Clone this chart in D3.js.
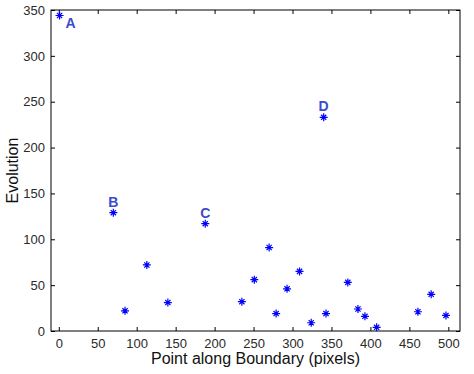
<!DOCTYPE html>
<html>
<head>
<meta charset="utf-8">
<script src="https://cdn.jsdelivr.net/npm/d3@7"></script>
<style>
  body { margin: 0; background: #fff; }
  text { font-family: Arial, "Liberation Sans", sans-serif; }
</style>
</head>
<body>
<div id="chart"></div>
<script>
// data
var positions = [1, 70, 85, 113, 140, 188, 235, 251, 270, 279, 293, 309, 324, 340, 343, 371, 384, 393, 408, 461, 478, 497];
var evolution = [344, 129, 22, 72, 31, 117, 32, 56, 91, 19, 46, 65, 9, 233, 19, 53, 24, 16, 4, 21, 40, 17];
var labelNames = ["A", "B", "C", "D"];
var labelIndex = [0, 1, 5, 13];
var xTicks = [0, 50, 100, 150, 200, 250, 300, 350, 400, 450, 500];
var yTicks = [0, 50, 100, 150, 200, 250, 300, 350];

var W = 474, H = 374;
var margin = {top: 10, right: 14, bottom: 43, left: 51},
    width = W - margin.left - margin.right,
    height = H - margin.top - margin.bottom;

var svg = d3.select("#chart")
  .append("svg")
    .attr("width", W)
    .attr("height", H)
  .append("g")
    .attr("transform", "translate(" + margin.left + "," + margin.top + ")");

var x = d3.scaleLinear().domain([-10, 515]).range([0, width]);
var y = d3.scaleLinear().domain([0, 350]).range([height, 0]);

// axes, ticks pointing inward like matlab
function styleAxis(g) {
  g.select(".domain").remove();
  g.selectAll(".tick line").attr("stroke", "#000");
  g.selectAll(".tick text").attr("fill", "#2a2a2a").style("font-size", "13px");
}

svg.append("g")
  .attr("transform", "translate(0," + height + ")")
  .call(d3.axisBottom(x).tickValues(xTicks).tickSizeInner(-4).tickSizeOuter(0).tickPadding(8))
  .call(styleAxis);
svg.append("g")
  .call(d3.axisTop(x).tickValues(xTicks).tickSizeInner(-4).tickSizeOuter(0).tickFormat(""))
  .call(styleAxis);
svg.append("g")
  .call(d3.axisLeft(y).tickValues(yTicks).tickSizeInner(-4).tickSizeOuter(0).tickPadding(6))
  .call(styleAxis);
svg.append("g")
  .attr("transform", "translate(" + width + ",0)")
  .call(d3.axisRight(y).tickValues(yTicks).tickSizeInner(-4).tickSizeOuter(0).tickFormat(""))
  .call(styleAxis);

svg.append("rect")
  .attr("width", width)
  .attr("height", height)
  .attr("fill", "none")
  .attr("stroke", "#000")
  .attr("stroke-width", 1);

// axis titles
svg.append("text")
  .attr("x", width / 2)
  .attr("y", height + 33)
  .attr("text-anchor", "middle")
  .attr("fill", "#111")
  .style("font-size", "16px")
  .text("Point along Boundary (pixels)");

svg.append("text")
  .attr("transform", "rotate(-90)")
  .attr("x", -height / 2)
  .attr("y", -33)
  .attr("text-anchor", "middle")
  .attr("fill", "#111")
  .style("font-size", "16px")
  .text("Evolution");

// asterisk markers
var star = "M-4,0H4M0,-4V4M-2.6,-2.6L2.6,2.6M-2.6,2.6L2.6,-2.6";
var pts = positions.map(function (p, i) { return {x: p, y: evolution[i]}; });

svg.append("g")
  .selectAll("path")
  .data(pts)
  .enter()
  .append("path")
    .attr("d", star)
    .attr("transform", function (d) { return "translate(" + x(d.x) + "," + y(d.y) + ")"; })
    .attr("stroke", "#0000ff")
    .attr("stroke-width", 1.2)
    .attr("fill", "none");

// point labels
var lbls = labelNames.map(function (n, i) { return {name: n, d: pts[labelIndex[i]]}; });
svg.append("g")
  .selectAll("text")
  .data(lbls)
  .enter()
  .append("text")
    .text(function (l) { return l.name; })
    .attr("x", function (l) { return l.name == "A" ? x(l.d.x) + 6 : x(l.d.x); })
    .attr("y", function (l) { return l.name == "A" ? y(l.d.y) + 12 : y(l.d.y) - 6; })
    .attr("text-anchor", function (l) { return l.name == "A" ? "start" : "middle"; })
    .attr("fill", "#3b4bcc")
    .style("font-size", "14px")
    .style("font-weight", "bold");
</script>
</body>
</html>
